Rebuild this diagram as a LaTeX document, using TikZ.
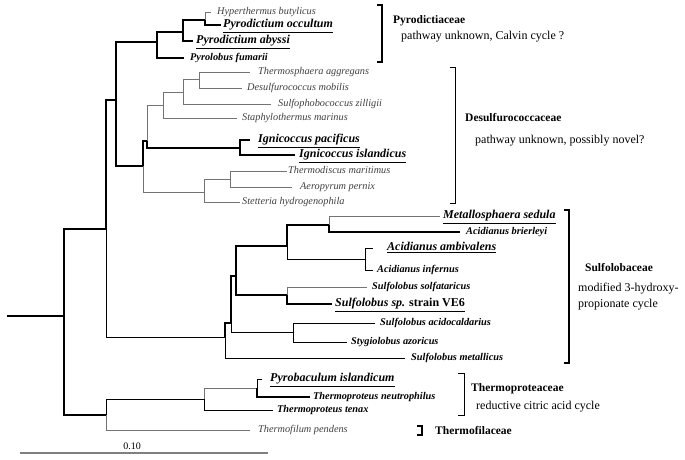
\documentclass[tikz,border=0pt]{standalone}
\usepackage{fontspec}
\setmainfont{Liberation Serif}
\begin{document}
\begin{tikzpicture}[x=1pt,y=-1pt,
    thk/.style={line width=1.5pt, black},
    med/.style={line width=1pt, black},
    thn/.style={line width=0.6pt, black!55},
    lf/.style={anchor=west, inner sep=0pt, text height=1.6ex, text depth=0.4ex},
    it/.style={lf, font=\fontsize{10.3}{12}\selectfont\itshape, text=black!75},
    bi/.style={lf, font=\fontsize{10.3}{12}\selectfont\bfseries\itshape},
    big/.style={lf, font=\fontsize{12}{14}\selectfont\bfseries\itshape},
    fam/.style={anchor=west, inner sep=0pt, font=\fontsize{11.5}{14}\selectfont\bfseries},
    note/.style={anchor=west, inner sep=0pt, font=\fontsize{12}{14}\selectfont},
    brk/.style={line width=#1, black}]
    \useasboundingbox (0,0) rectangle (685,460);

    % Leaves
    \node[it]  (hyp)    at (217,12)  {Hyperthermus butylicus};
    \node[big] (pocc)   at (223,25)  {\underline{Pyrodictium occultum}};
    \node[big] (pab)    at (196,41)  {\underline{Pyrodictium abyssi}};
    \node[bi]  (pfum)   at (190,58)  {Pyrolobus fumarii};
    \node[it]  (thsph)  at (258,72)  {Thermosphaera aggregans};
    \node[it]  (desulf) at (247,88)  {Desulfurococcus mobilis};
    \node[it]  (sulfph) at (278,104) {Sulfophobococcus zilligii};
    \node[it]  (staph)  at (242,118) {Staphylothermus marinus};
    \node[big] (ignpac) at (258,140) {\underline{Ignicoccus pacificus}};
    \node[big] (ignisl) at (299,155) {\underline{Ignicoccus islandicus}};
    \node[it]  (thdisc) at (288,171) {Thermodiscus maritimus};
    \node[it]  (aero)   at (300,187) {Aeropyrum pernix};
    \node[it]  (stett)  at (242,202) {Stetteria hydrogenophila};
    \node[big] (metal)  at (443,216) {\underline{Metallosphaera sedula}};
    \node[bi]  (brier)  at (466,232) {Acidianus brierleyi};
    \node[big] (ambiv)  at (387,248) {\underline{Acidianus ambivalens}};
    \node[bi]  (infer)  at (377,270) {Acidianus infernus};
    \node[bi]  (solf)   at (372,287) {Sulfolobus solfataricus};
    \node[big] (ve6)    at (335,304) {\underline{Sulfolobus sp. \upshape strain VE6}};
    \node[bi]  (acido)  at (380,323) {Sulfolobus acidocaldarius};
    \node[bi]  (stygio) at (351,342) {Stygiolobus azoricus};
    \node[bi]  (metall) at (411,358) {Sulfolobus metallicus};
    \node[big] (pybac)  at (270,379) {\underline{Pyrobaculum islandicum}};
    \node[bi]  (tneut)  at (313,397) {Thermoproteus neutrophilus};
    \node[bi]  (ttenax) at (277,410) {Thermoproteus tenax};
    \node[it]  (tfil)   at (258,430) {Thermofilum pendens};

    % Internal nodes
    \coordinate (stem) at (7,316);
    \coordinate (root) at (64,316);
    \coordinate (cren) at (106,229);
    \coordinate (dp)   at (116,100);
    \coordinate (py3)  at (157,42);
    \coordinate (py2)  at (183,32);
    \coordinate (py1)  at (205,20);
    \coordinate (de1)  at (143,166);
    \coordinate (de4)  at (147,141);
    \coordinate (de3)  at (163,105);
    \coordinate (de2)  at (183,92);
    \coordinate (de0)  at (199,79);
    \coordinate (ign)  at (240,148);
    \coordinate (de6)  at (204,192);
    \coordinate (de5)  at (230,179);
    \coordinate (su8)  at (225,337);
    \coordinate (su7)  at (231,323);
    \coordinate (su5)  at (236,276);
    \coordinate (su3)  at (287,246);
    \coordinate (su1)  at (329,225);
    \coordinate (su2)  at (365,259);
    \coordinate (su4)  at (287,295);
    \coordinate (su6)  at (293,332);
    \coordinate (tp3)  at (106,415);
    \coordinate (tp2)  at (204,399);
    \coordinate (tp1)  at (257,388);

    % Root and main split
    \draw[thk] (stem) -- (root);
    \draw[thk] (root) |- (cren);
    \draw[thk] (root) |- (tp3);
    \draw[thk] (cren) |- (dp);
    \draw[med] (cren) |- (su8);

    % Pyrodictiaceae
    \draw[thk] (dp) |- (py3);
    \draw[thk] (py3) |- (py2);
    \draw[thk, shorten >=6pt] (py3) |- (pfum);
    \draw[thk] (py2) |- (py1);
    \draw[thk, shorten >=3pt] (py2) |- (pab);
    \draw[thn, shorten >=6pt] (py1) |- (hyp);
    \draw[thk, shorten >=2pt] (py1) |- (pocc);

    % Desulfurococcaceae
    \draw[thk] (dp) |- (de1);
    \draw[thk] (de1) |- (de4);
    \draw[thn] (de1) |- (de6);
    \draw[thn] (de4) |- (de3);
    \draw[thk] (de4) |- (ign);
    \draw[thn] (de3) |- (de2);
    \draw[thn, shorten >=5pt] (de3) |- (staph);
    \draw[thn] (de2) |- (de0);
    \draw[thn, shorten >=7pt] (de2) |- (sulfph);
    \draw[thn, shorten >=8pt] (de0) |- (thsph);
    \draw[thn, shorten >=5pt] (de0) |- (desulf);
    \draw[thk, shorten >=8pt] (ign) |- (ignpac);
    \draw[thk, shorten >=4pt] (ign) |- (ignisl);
    \draw[thn] (de6) |- (de5);
    \draw[thn, shorten >=2pt] (de6) |- (stett);
    \draw[thn, shorten >=1pt] (de5) |- (thdisc);
    \draw[thn, shorten >=8pt] (de5) |- (aero);

    % Sulfolobaceae
    \draw[thk] (su8) |- (su7);
    \draw[med, shorten >=6pt] (su8) |- (metall);
    \draw[thk] (su7) |- (su5);
    \draw[med] (su7) |- (su6);
    \draw[thk] (su5) |- (su3);
    \draw[thk] (su5) |- (su4);
    \draw[thk] (su3) |- (su1);
    \draw[med] (su3) |- (su2);
    \draw[thn, shorten >=3pt] (su1) |- (metal);
    \draw[thk, shorten >=6pt] (su1) |- (brier);
    \draw[med, shorten >=14pt] (su2) |- (ambiv);
    \draw[med, shorten >=4pt] (su2) |- (infer);
    \draw[thn, shorten >=5pt] (su4) |- (solf);
    \draw[thk, shorten >=3pt] (su4) |- (ve6);
    \draw[med, shorten >=5pt] (su6) |- (acido);
    \draw[med, shorten >=4pt] (su6) |- (stygio);

    % Thermoproteaceae and Thermofilaceae
    \draw[med] (tp3) |- (tp2);
    \draw[thn, shorten >=8pt] (tp3) |- (tfil);
    \draw[thn] (tp2) |- (tp1);
    \draw[med, shorten >=4pt] (tp2) |- (ttenax);
    \draw[med, shorten >=8pt] (tp1) |- (pybac);
    \draw[thk, shorten >=3pt] (tp1) |- (tneut);

    % Family brackets
    \draw[brk=1.5pt] (377,5) -- (382,5) -- (382,62) -- (377,62);
    \draw[brk=1pt] (450,68) -- (455,68) -- (455,203) -- (450,203);
    \draw[brk=1.2pt] (564,210) -- (569,210) -- (569,363) -- (564,363);
    \draw[brk=0.8pt] (458,373) -- (464,373) -- (464,415) -- (458,415);
    \draw[brk=1.2pt] (417,426) -- (422,426) -- (422,435) -- (417,435);

    % Family labels
    \node[fam]  (pyrf)  at (393,21)  {Pyrodictiaceae};
    \node[note] (pyrn)  at (401,37)  {pathway unknown, Calvin cycle ?};
    \node[fam]  (desf)  at (465,118) {Desulfurococcaceae};
    \node[note] (desn)  at (475,141) {pathway unknown, possibly novel?};
    \node[fam]  (sulf)  at (585,268) {Sulfolobaceae};
    \node[note] (suln1) at (578,289) {modified 3-hydroxy-};
    \node[note] (suln2) at (578,305) {propionate cycle};
    \node[fam]  (thpf)  at (471,389) {Thermoproteaceae};
    \node[note] (thpn)  at (476,407) {reductive citric acid cycle};
    \node[fam]  (thff)  at (435,431) {Thermofilaceae};

    % Scale bar
    \coordinate (sbl) at (20,453);
    \coordinate (sbr) at (268,453);
    \draw[line width=1.5pt, black!50] (sbl) -- (sbr);
    \node[font=\fontsize{10}{12}\selectfont] (sbt) at (132,446) {0.10};
\end{tikzpicture}
\end{document}
